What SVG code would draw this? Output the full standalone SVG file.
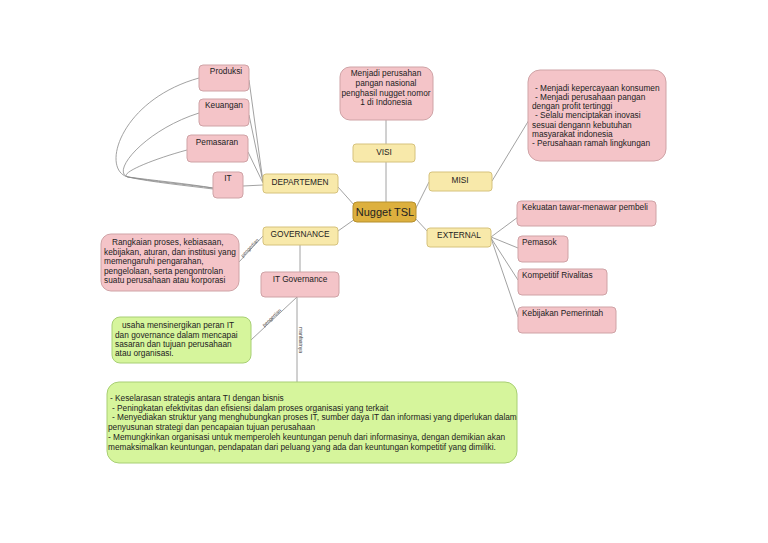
<svg xmlns="http://www.w3.org/2000/svg" width="768" height="543" viewBox="0 0 768 543">
<style>
text{font-family:"Liberation Sans",Arial,sans-serif;fill:#222;font-size:8.3px}
.pink{fill:#f4c4c8;stroke:#cfa3a6;stroke-width:1}
.yel{fill:#f8e9aa;stroke:#d6c27c;stroke-width:1}
.gold{fill:#ddb03e;stroke:#b58f2c;stroke-width:1}
.green{fill:#d6f59c;stroke:#a8cf74;stroke-width:1}
.c{text-anchor:middle}
.ln{stroke:#8a8a8a;stroke-width:0.8;fill:none}
.lbl{font-size:5px;fill:#444}
</style>
<rect width="768" height="543" fill="#fff"/>
<g id="connectors">
<line class="ln" x1="386" y1="120" x2="386" y2="144"/>
<line class="ln" x1="386" y1="162" x2="386" y2="203"/>
<line class="ln" x1="338" y1="187" x2="355" y2="206"/>
<line class="ln" x1="355" y1="219" x2="338" y2="231"/>
<line class="ln" x1="415" y1="210" x2="429" y2="182"/>
<line class="ln" x1="415" y1="218" x2="429" y2="233"/>
<line class="ln" x1="492" y1="181" x2="529" y2="120"/>
<line class="ln" x1="491" y1="237" x2="518" y2="217"/>
<line class="ln" x1="491" y1="237" x2="518" y2="248"/>
<line class="ln" x1="491" y1="238" x2="518" y2="280"/>
<line class="ln" x1="491" y1="238" x2="518" y2="317"/>
<line class="ln" x1="249" y1="80" x2="263" y2="182"/>
<line class="ln" x1="249" y1="115" x2="263" y2="182"/>
<line class="ln" x1="248" y1="152" x2="263" y2="183"/>
<line class="ln" x1="243" y1="186" x2="263" y2="185"/>
<path class="ln" d="M199,78 C120,100 100,170 128,177 C150,180 190,184 213,188"/>
<path class="ln" d="M199,113 C145,130 110,172 128,177 C150,181 190,185 213,188"/>
<path class="ln" d="M187,150 C150,160 118,174 128,177 C150,182 190,186 213,189"/>
<line class="ln" x1="300" y1="245" x2="300" y2="272"/>
<line class="ln" x1="239" y1="262" x2="263" y2="236"/>
<line class="ln" x1="251" y1="340" x2="297" y2="297"/>
<line class="ln" x1="297" y1="297" x2="297" y2="382"/>
<text class="lbl c" transform="translate(251,249) rotate(-47)">pengertian</text>
<text class="lbl c" transform="translate(273,319) rotate(-43)">pengertian</text>
<text class="lbl c" transform="translate(299,340) rotate(90)">manfaatnya</text>
</g>
<g id="nugget"><rect class="gold" x="353" y="202" width="63" height="20" rx="4"/><text class="c" x="385" y="216" style="font-size:11px">Nugget TSL</text></g>
<g id="visi"><rect class="yel" x="353" y="144" width="62" height="18" rx="3"/><text class="c" x="384" y="155">VISI</text></g>
<g id="visi-desc"><rect class="pink" x="340" y="67" width="93" height="53" rx="10"/>
<text class="c" x="386" y="76">Menjadi perusahan</text><text class="c" x="386" y="86">pangan nasional</text><text class="c" x="386" y="96">penghasil nugget nomor</text><text class="c" x="386" y="105">1 di Indonesia</text></g>
<g id="misi"><rect class="yel" x="429" y="172" width="63" height="19" rx="3"/><text class="c" x="460" y="183">MISI</text></g>
<g id="misi-desc"><rect class="pink" x="528" y="70" width="138" height="91" rx="12"/>
<text x="535" y="91">- Menjadi kepercayaan konsumen</text>
<text x="535" y="100">- Menjadi perusahaan pangan</text>
<text x="532" y="109">dengan profit tertinggi</text>
<text x="535" y="118">- Selalu menciptakan inovasi</text>
<text x="532" y="128">sesuai dengann kebutuhan</text>
<text x="532" y="137">masyarakat indonesia</text>
<text x="532" y="146">- Perusahaan ramah lingkungan</text></g>
<g id="departemen"><rect class="yel" x="263" y="174" width="75" height="19" rx="3"/><text class="c" x="300" y="185">DEPARTEMEN</text></g>
<g id="produksi"><rect class="pink" x="199" y="65" width="50" height="26" rx="4"/><text class="c" x="226" y="74">Produksi</text></g>
<g id="keuangan"><rect class="pink" x="199" y="99" width="50" height="27" rx="4"/><text class="c" x="224" y="108">Keuangan</text></g>
<g id="pemasaran"><rect class="pink" x="187" y="135" width="61" height="27" rx="4"/><text class="c" x="217" y="145">Pemasaran</text></g>
<g id="it"><rect class="pink" x="213" y="172" width="30" height="26" rx="4"/><text class="c" x="228" y="181">IT</text></g>
<g id="governance"><rect class="yel" x="263" y="227" width="75" height="18" rx="3"/><text class="c" x="300" y="237">GOVERNANCE</text></g>
<g id="governance-desc"><rect class="pink" x="101" y="234" width="138" height="57" rx="10"/>
<text x="112" y="245">Rangkaian proses, kebiasaan,</text>
<text x="104" y="255">kebijakan, aturan, dan institusi yang</text>
<text x="104" y="264">memengaruhi pengarahan,</text>
<text x="104" y="274">pengelolaan, serta pengontrolan</text>
<text x="104" y="283">suatu perusahaan atau korporasi</text></g>
<g id="it-governance"><rect class="pink" x="261" y="272" width="78" height="25" rx="4"/><text class="c" x="300" y="282">IT Governance</text></g>
<g id="it-governance-desc"><rect class="green" x="112" y="317" width="139" height="46" rx="8"/>
<text x="122" y="328">usaha mensinergikan peran IT</text>
<text x="115" y="338">dan governance dalam mencapai</text>
<text x="115" y="347">sasaran dan tujuan perusahaan</text>
<text x="115" y="356">atau organisasi.</text></g>
<g id="manfaat"><rect class="green" x="107" y="382" width="410" height="81" rx="12"/>
<g style="font-size:7.7px">
<text x="110" y="401">- Keselarasan strategis antara TI dengan bisnis</text>
<text x="112" y="411">- Peningkatan efektivitas dan efisiensi dalam proses organisasi yang terkait</text>
<text x="112" y="420">- Menyediakan struktur yang menghubungkan proses IT, sumber daya IT dan informasi yang diperlukan dalam</text>
<text x="108" y="430">penyusunan strategi dan pencapaian tujuan perusahaan</text>
<text x="108" y="440">- Memungkinkan organisasi untuk memperoleh keuntungan penuh dari informasinya, dengan demikian akan</text>
<text x="108" y="450">memaksimalkan keuntungan, pendapatan dari peluang yang ada dan keuntungan kompetitif yang dimiliki.</text>
</g></g>
<g id="external"><rect class="yel" x="427" y="228" width="64" height="19" rx="3"/><text class="c" x="459" y="238">EXTERNAL</text></g>
<g id="kekuatan"><rect class="pink" x="517" y="201" width="139" height="25" rx="4"/><text x="522" y="210">Kekuatan tawar-menawar pembeli</text></g>
<g id="pemasok"><rect class="pink" x="518" y="236" width="50" height="26" rx="4"/><text x="522" y="245">Pemasok</text></g>
<g id="kompetitif"><rect class="pink" x="518" y="269" width="89" height="26" rx="4"/><text x="522" y="278">Kompetitif Rivalitas</text></g>
<g id="kebijakan"><rect class="pink" x="518" y="307" width="98" height="26" rx="4"/><text x="522" y="316">Kebijakan Pemerintah</text></g>
</svg>
